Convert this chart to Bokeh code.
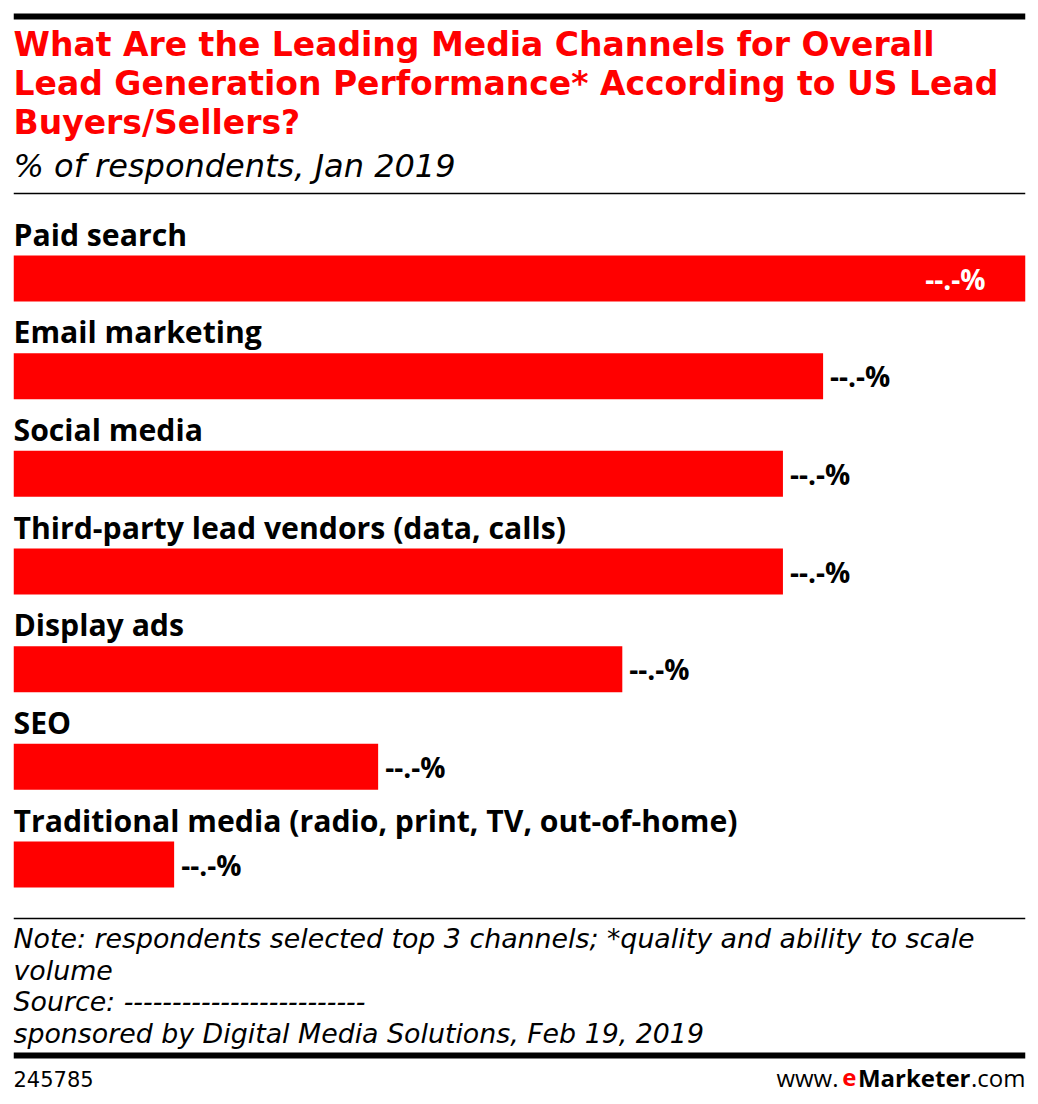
from bokeh.plotting import figure
from bokeh.models import Range1d, Span, Label, ColumnDataSource
from bokeh.core.properties import value
from bokeh.embed import file_html
from bokeh.resources import INLINE

# ---------------- data ----------------
categories = [
    "Paid search",
    "Email marketing",
    "Social media",
    "Third-party lead vendors (data, calls)",
    "Display ads",
    "SEO",
    "Traditional media (radio, print, TV, out-of-home)",
]
values = [63.0, 50.4, 47.9, 47.9, 37.9, 22.7, 10.0]
value_labels = ["--.-%", "--.-%", "--.-%", "--.-%", "--.-%", "--.-%", "--.-%"]

title_lines = [
    "What Are the Leading Media Channels for Overall",
    "Lead Generation Performance* According to US Lead",
    "Buyers/Sellers?",
]
subtitle = "% of respondents, Jan 2019"
note_lines = [
    "Note: respondents selected top 3 channels; *quality and ability to scale",
    "volume",
    "Source: -------------------------",
    "sponsored by Digital Media Solutions, Feb 19, 2019",
]
chart_id = "245785"

# ---------------- style ----------------
RED = "#FF0000"
W, H = 1030, 1100
XMAX = max(values)


def bl(y, fs):
    # bokeh draws "alphabetic" text somewhat lower; compensate
    return y - 0.36 * fs


p = figure(width=W, height=H, x_range=Range1d(0, XMAX), y_range=Range1d(H, 0),
           output_backend="svg", toolbar_location=None,
           x_axis_location=None, y_axis_location=None,
           min_border_left=13, min_border_right=W - 1025, min_border_top=0, min_border_bottom=0)
p.grid.visible = False
p.outline_line_color = None
p.background_fill_color = "white"
p.border_fill_color = "white"

# layout (page pixel rows)
first_center = 278.0
row_step = 97.67
bar_h = 46
LAB_FS = 30.2
centers = [first_center + i * row_step for i in range(len(categories))]
label_base = [bl(c - 33.5, LAB_FS) for c in centers]

src = ColumnDataSource(dict(cat=categories, val=values, y=centers, ly=label_base, lab=value_labels))
p.hbar(y="y", left=0, right="val", height=bar_h, source=src, fill_color=RED, line_color=None)

p.text(x=0, y="ly", text="cat", source=src, text_font=value("Open Sans"), text_font_style="bold",
       text_font_size=f"{LAB_FS}px", text_color="black", text_baseline="alphabetic",
       text_align="left")

inside = [i for i, v in enumerate(values) if v >= XMAX * 0.95]
outside = [i for i in range(len(values)) if i not in inside]
src_in = ColumnDataSource(dict(x=[values[i] for i in inside], y=[centers[i] for i in inside],
                               t=[value_labels[i] for i in inside]))
src_out = ColumnDataSource(dict(x=[values[i] for i in outside], y=[centers[i] for i in outside],
                                t=[value_labels[i] for i in outside]))
p.text(x="x", y="y", text="t", source=src_in, x_offset=-40, text_align="right",
       text_baseline="middle", text_font=value("Open Sans"), text_font_style="bold",
       text_font_size="28px", text_color="white")
p.text(x="x", y="y", text="t", source=src_out, x_offset=7, text_align="left",
       text_baseline="middle", text_font=value("Open Sans"), text_font_style="bold",
       text_font_size="28px", text_color="black")

# rules
p.add_layout(Span(location=16, dimension="width", line_color="black", line_width=6))
p.add_layout(Span(location=193, dimension="width", line_color="black", line_width=1.5))
p.add_layout(Span(location=918, dimension="width", line_color="black", line_width=1.5))
p.add_layout(Span(location=1055, dimension="width", line_color="black", line_width=6))

# header
TFS = 33
for i, t in enumerate(title_lines):
    p.add_layout(Label(x=0, y=bl(56 + i * 39, TFS), text=t, text_font="DejaVu Sans",
                       text_font_style="bold", text_font_size=f"{TFS}px", text_color=RED,
                       text_baseline="alphabetic"))
SFS = 32
p.add_layout(Label(x=0, y=bl(177, SFS), text=subtitle, text_font="DejaVu Sans",
                   text_font_style="italic", text_font_size=f"{SFS}px", text_color="black",
                   text_baseline="alphabetic"))

# notes
NFS = 26.8
for i, t in enumerate(note_lines):
    p.add_layout(Label(x=0, y=bl(948 + i * 31.5, NFS), text=t, text_font="DejaVu Sans",
                       text_font_style="italic", text_font_size=f"{NFS}px", text_color="black",
                       text_baseline="alphabetic"))

# footer
FFS = 24
p.add_layout(Label(x=0, y=bl(1086, 21), text=chart_id, text_font="DejaVu Sans",
                   text_font_size="21px", text_color="black", text_baseline="alphabetic"))
p.add_layout(Label(x=XMAX, y=bl(1086, FFS), text=".com", text_font="Open Sans",
                   text_font_size=f"{FFS}px", text_color="black", text_baseline="alphabetic",
                   text_align="right"))
p.add_layout(Label(x=XMAX, y=bl(1086, FFS), x_offset=-55, text="Marketer", text_font="Open Sans",
                   text_font_style="bold", text_font_size=f"{FFS}px", text_color="black",
                   text_baseline="alphabetic", text_align="right"))
p.add_layout(Label(x=XMAX, y=bl(1086, FFS), x_offset=-169, text="e", text_font="Open Sans",
                   text_font_style="bold", text_font_size=f"{FFS}px", text_color=RED,
                   text_baseline="alphabetic", text_align="right"))
p.add_layout(Label(x=XMAX, y=bl(1086, FFS), x_offset=-187, text="www.", text_font="Open Sans",
                   text_font_size=f"{FFS}px", text_color="black",
                   text_baseline="alphabetic", text_align="right"))

open("out.html", "w").write(file_html(p, INLINE))
